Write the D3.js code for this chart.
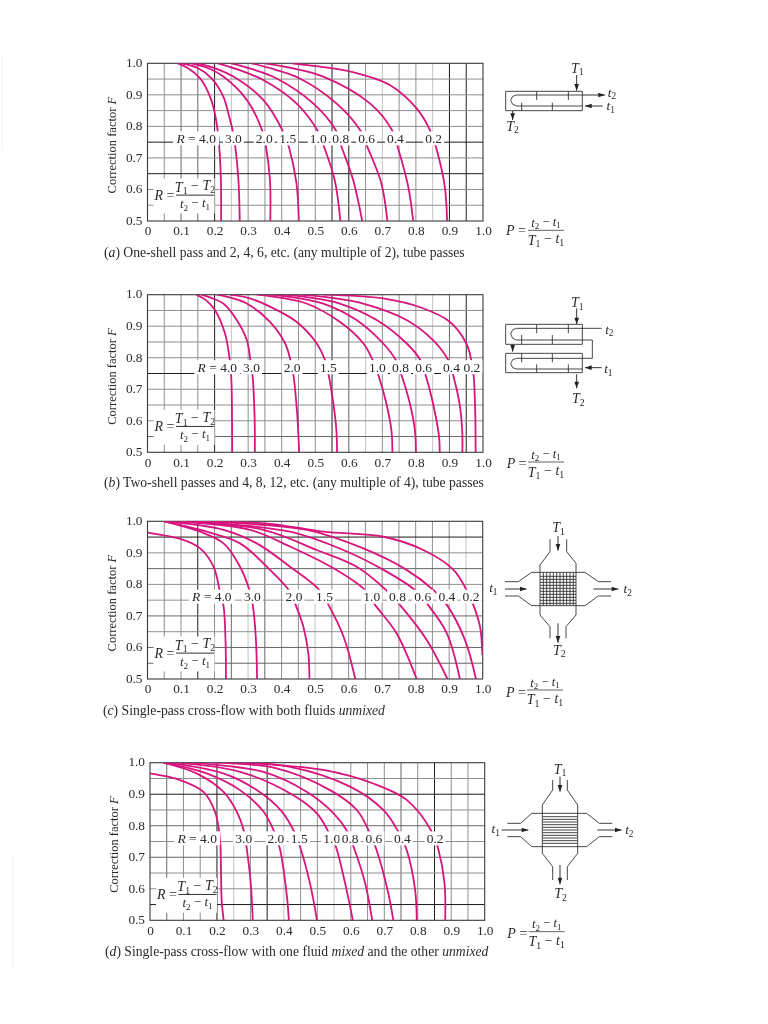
<!DOCTYPE html>
<html><head><meta charset="utf-8">
<script src="https://cdnjs.cloudflare.com/ajax/libs/d3/7.8.5/d3.min.js"></script>
<style>
html,body{margin:0;padding:0;background:#fff}
svg{display:block;filter:blur(0.35px)}
text{font-family:"Liberation Serif",serif;fill:#2a2a2a}
</style></head><body>
<svg id="c" width="768" height="1024"></svg>
<script>
const xTicks=[0,.1,.2,.3,.4,.5,.6,.7,.8,.9,1];
const yTicks=[.5,.6,.7,.8,.9,1];
const gridStepX=[.05,.1,.15,.2,.25,.3,.35,.4,.45,.5,.55,.6,.65,.7,.75,.8,.85,.9,.95];
const gridStepY=[.55,.6,.65,.7,.75,.8,.85,.9,.95];
const rNames=["4.0","3.0","2.0","1.5","1.0","0.8","0.6","0.4","0.2"];

const curvesA=[
 [[.09,1],[.12,.985],[.157,.952],[.18,.91],[.196,.863],[.21,.78],[.216,.7],[.219,.62],[.2195,.5]],
 [[.1,1],[.15,.985],[.191,.952],[.226,.894],[.246,.82],[.254,.786],[.261,.741],[.271,.63],[.275,.5]],
 [[.13,1],[.18,.985],[.226,.958],[.296,.884],[.342,.786],[.353,.736],[.365,.63],[.366,.5]],
 [[.15,1],[.2,.985],[.256,.958],[.345,.884],[.403,.786],[.421,.736],[.444,.62],[.451,.5]],
 [[.21,1],[.27,.98],[.345,.947],[.444,.873],[.507,.786],[.526,.736],[.558,.63],[.575,.5]],
 [[.25,1],[.31,.982],[.385,.952],[.494,.873],[.562,.786],[.578,.736],[.613,.63],[.64,.5]],
 [[.31,1],[.38,.98],[.454,.952],[.563,.873],[.635,.786],[.655,.736],[.697,.62],[.715,.5]],
 [[.35,1],[.43,.985],[.524,.958],[.663,.873],[.73,.786],[.747,.73],[.777,.61],[.792,.5]],
 [[.43,1],[.51,.99],[.603,.974],[.722,.931],[.802,.857],[.843,.786],[.861,.73],[.886,.61],[.893,.5]]];
const curvesB=[
 [[.145,1],[.175,.982],[.2,.953],[.231,.877],[.244,.803],[.25,.73],[.252,.6],[.2525,.5]],
 [[.16,1],[.19,.99],[.226,.972],[.266,.92],[.296,.856],[.306,.798],[.313,.745],[.319,.62],[.32,.5]],
 [[.206,1],[.25,.99],[.296,.972],[.365,.914],[.41,.846],[.426,.793],[.435,.745],[.446,.624],[.452,.5]],
 [[.246,1],[.3,.99],[.365,.962],[.444,.914],[.504,.846],[.529,.793],[.54,.745],[.554,.655],[.563,.57],[.565,.5]],
 [[.325,1],[.4,.99],[.474,.972],[.573,.914],[.643,.846],[.671,.793],[.688,.745],[.712,.655],[.727,.57],[.73,.5]],
 [[.365,1],[.445,.99],[.524,.972],[.623,.92],[.702,.846],[.74,.793],[.757,.745],[.782,.655],[.797,.57],[.8,.5]],
 [[.405,1],[.49,.99],[.573,.972],[.683,.92],[.772,.846],[.813,.793],[.829,.745],[.851,.655],[.869,.55],[.871,.5]],
 [[.454,1],[.55,.99],[.643,.972],[.772,.92],[.851,.856],[.896,.793],[.911,.745],[.93,.655],[.938,.57],[.9385,.5]],
 [[.524,1],[.702,.988],[.821,.957],[.901,.914],[.95,.846],[.965,.793],[.972,.745],[.977,.62],[.978,.5]]];
const curvesC=[
 [[0,.964],[.107,.941],[.157,.914],[.197,.856],[.217,.772],[.227,.73],[.233,.613],[.234,.5]],
 [[.05,1],[.157,.967],[.227,.93],[.276,.856],[.304,.782],[.314,.735],[.323,.634],[.327,.5]],
 [[.05,1],[.177,.967],[.276,.93],[.356,.856],[.425,.777],[.442,.735],[.465,.666],[.48,.58],[.483,.5]],
 [[.05,1],[.227,.973],[.326,.93],[.425,.856],[.513,.782],[.54,.735],[.585,.634],[.62,.5]],
 [[.08,1],[.306,.973],[.425,.92],[.555,.851],[.649,.782],[.679,.735],[.743,.645],[.803,.5]],
 [[.1,1],[.346,.973],[.505,.909],[.624,.856],[.712,.782],[.753,.735],[.833,.624],[.895,.5]],
 [[.12,1],[.425,.967],[.584,.909],[.704,.846],[.798,.782],[.833,.74],[.893,.645],[.932,.5]],
 [[.15,1],[.475,.973],[.644,.914],[.773,.846],[.853,.782],[.893,.735],[.947,.624],[.98,.5]],
 [[.2,1],[.366,.992],[.525,.967],[.704,.951],[.823,.909],[.913,.846],[.952,.782],[.972,.735],[.992,.666],[.999,.576]]];
const curvesD=[
 [[0,.966],[.09,.945],[.159,.908],[.194,.845],[.209,.76],[.212,.67],[.214,.565],[.22,.5]],
 [[.04,1],[.139,.966],[.219,.908],[.259,.845],[.281,.781],[.289,.728],[.301,.617],[.307,.5]],
 [[.04,1],[.169,.966],[.269,.913],[.339,.845],[.371,.781],[.388,.728],[.408,.586],[.415,.5]],
 [[.05,1],[.219,.966],[.319,.913],[.394,.845],[.431,.781],[.448,.734],[.478,.617],[.499,.5]],
 [[.08,1],[.269,.971],[.418,.903],[.498,.84],[.533,.781],[.555,.734],[.583,.617],[.606,.5]],
 [[.12,1],[.339,.971],[.468,.908],[.548,.84],[.59,.781],[.608,.734],[.643,.617],[.664,.5]],
 [[.18,1],[.378,.982],[.538,.913],[.618,.85],[.655,.781],[.677,.723],[.712,.586],[.727,.5]],
 [[.22,1],[.418,.987],[.598,.924],[.697,.85],[.742,.781],[.767,.723],[.792,.597],[.797,.5]],
 [[.3,1],[.319,.998],[.518,.977],[.667,.934],[.767,.882],[.842,.781],[.862,.723],[.88,.617],[.882,.5]]];

const labelPosA=[.145,.256,.348,.418,.509,.576,.653,.739,.853];
const labelPosB=[.208,.31,.431,.539,.685,.754,.823,.906,.967];
const labelPosC=[.192,.313,.437,.528,.669,.746,.821,.893,.965];
const labelPosD=[.141,.28,.376,.446,.543,.598,.669,.754,.852];

const panels=[
 {letter:"a",box:[147.5,63.3,483,221],curves:curvesA,lab:labelPosA,labF:.762,
  darkX:[.2,.55,.6,.9,.95],midX:[.1,.15],lightX:[.25,.7,.85],darkY:[.65,.75],midY:[],
  cap:[["(",""],["a","i"],[") One-shell pass and 2, 4, 6, etc. (any multiple of 2), tube passes",""]],capX:104,capY:257},
 {letter:"b",box:[147.5,294.7,483,452.3],curves:curvesB,lab:labelPosB,labF:.77,
  darkX:[.2,.55,.95],midX:[.6,.9],lightX:[.25,.65,.85],darkY:[.75],midY:[.55],
  cap:[["(",""],["b","i"],[") Two-shell passes and 4, 8, 12, etc. (any multiple of 4), tube passes",""]],capX:104,capY:487},
 {letter:"c",box:[147.5,521.3,482.7,679],curves:curvesC,lab:labelPosC,labF:.761,
  darkX:[.15],midX:[.25,.35],lightX:[.3,.5,.95],darkY:[.95],midY:[.85,.7,.6,.55],
  cap:[["(",""],["c","i"],[") Single-pass cross-flow with both fluids ",""],["unmixed","i"]],capX:103,capY:715},
 {letter:"d",box:[150,762.7,484.7,920.3],curves:curvesD,lab:labelPosD,labF:.76,
  darkX:[.2,.35,.85],midX:[.05,.75],lightX:[.25,.4,.55],darkY:[.9,.55],midY:[.8,.7],
  cap:[["(",""],["d","i"],[") Single-pass cross-flow with one fluid ",""],["mixed","i"],[" and the other ",""],["unmixed","i"]],capX:105,capY:956}
];

/* schematic outlines, in units of a third of a pixel */
const diagA={o:[490,50],lines:[[[47,124],[277,124],[277,182],[47,182],[47,124]],[[277,135],[80,135],[68,139],[62,151],[68,163],[80,168],[277,168]],[[140,124],[140,150]],[[235,124],[235,150]],[[95,158],[95,182]],[[187,158],[187,182]]],
 arrows:[[[260,75],[260,122]],[[68,182],[68,210]],[[277,135],[345,135]],[[338,168],[285,168]]],
 labs:[["T","1",262,68],["t","2",366,140],["t","1",362,180],["T","2",68,242]],frac:[168,531,564,48,544]};
const diagB={o:[490,285],lines:[[[47,118],[277,118],[277,178],[47,178],[47,118]],[[47,205],[277,205],[277,263],[47,263],[47,205]],[[335,130],[80,130],[68,134],[62,147],[68,160],[80,165],[307,165],[307,220],[80,220],[68,224],[62,236],[68,248],[80,252],[277,252]],[[140,118],[140,145]],[[235,118],[235,145]],[[95,150],[95,178]],[[187,150],[187,178]],[[95,205],[95,232]],[[187,205],[187,232]],[[140,238],[140,263]],[[235,238],[235,263]]],
 arrows:[[[260,70],[260,118]],[[68,178],[68,200]],[[260,268],[260,310]],[[335,248],[285,248]]],
 labs:[["T","1",262,66],["t","2",358,146],["t","1",355,264],["T","2",265,354]],frac:[168,521,555,50,538]};
const ductC=[[[210,88],[210,125],[180,165],[180,315],[210,350],[210,385]],[[260,88],[260,125],[288,160],[288,315],[258,350],[258,385]],[[75,215],[115,215],[155,187],[315,187],[355,215],[393,215]],[[75,258],[115,258],[155,287],[315,287],[355,258],[393,258]]];
const ductD=[[[218,75],[218,105],[187,150],[187,295],[218,335],[218,375]],[[262,75],[262,105],[293,150],[293,295],[262,335],[262,375]],[[82,205],[122,205],[155,175],[320,175],[358,205],[397,205]],[[82,245],[122,245],[155,275],[320,275],[358,245],[397,245]]];
const meshCh=[199,208,217,226,235,244,253,262,271,280];
const meshCx=[190,200,210,220,230,240,250,260,270,280];
const meshDh=[185,193,201,209,217,225,233,241,249,257,265];
const diagC={o:[480,510],lines:ductC.concat(meshCh.map(y=>[[180,y],[288,y]]),meshCx.map(x=>[[x,187],[x,287]])),
 arrows:[[[234,78],[234,122]],[[234,340],[234,398]],[[75,237],[140,237]],[[340,237],[415,237]]],
 labs:[["T","1",236,66],["t","1",40,246],["t","2",443,249],["T","2",238,434]],frac:[195,530,563,78,551]};
const diagD={o:[480,755],lines:ductD.concat(meshDh.map(y=>[[187,y],[293,y]])),
 arrows:[[[240,65],[240,110]],[[240,330],[240,388]],[[65,225],[145,225]],[[352,225],[425,225]]],
 labs:[["T","1",240,56],["t","1",47,234],["t","2",448,237],["T","2",242,429]],frac:[200,520,553,82,538]};
const diagrams=[diagA,diagB,diagC,diagD];

const svg=d3.select("#c");
function rich(t,parts,subSize){
  let pendingUp=false;
  parts.forEach(p=>{
    const s=t.append("tspan").text(p[0]);
    if(p[1]=="i")s.attr("font-style","italic");
    if(p[1]=="s")s.attr("font-size",subSize||"70%").attr("dy","0.28em");
    if(pendingUp){s.attr("dy","-0.28em");pendingUp=false;}
    if(p[1]=="s")pendingUp=true;
  });
  return t;
}

panels.forEach((p,pi)=>{
  const [x0,y0,x1,y1]=p.box;
  const x=d3.scaleLinear().domain([0,1]).range([x0,x1]);
  const y=d3.scaleLinear().domain([.5,1]).range([y1,y0]);
  const g=svg.append("g");
  const shade=(v,d,m,l)=>d.includes(v)?"#1c1c1c":m.includes(v)?"#666":l.includes(v)?"#c4c4c4":"#8f8f8f";
  g.selectAll(".gx").data(gridStepX).join("line").attr("x1",x).attr("x2",x).attr("y1",y1).attr("y2",y0)
    .attr("stroke",d=>shade(d,p.darkX,p.midX,p.lightX)).attr("stroke-width",1);
  g.selectAll(".gy").data(gridStepY).join("line").attr("x1",x0).attr("x2",x1).attr("y1",y).attr("y2",y)
    .attr("stroke",d=>shade(d,p.darkY,p.midY,[])).attr("stroke-width",1);
  g.append("rect").attr("x",x0).attr("y",y0).attr("width",x1-x0).attr("height",y1-y0)
    .attr("fill","none").attr("stroke","#3a3a3a").attr("stroke-width",1.1);

  const clipId="plot-"+p.letter;
  svg.append("clipPath").attr("id",clipId).append("rect").attr("x",x0).attr("y",y0).attr("width",x1-x0).attr("height",y1-y0);
  const line=d3.line().x(d=>x(d[0])).y(d=>y(d[1])).curve(d3.curveCatmullRom.alpha(.5));
  g.append("g").attr("clip-path",`url(#${clipId})`).selectAll("path").data(p.curves).join("path").attr("d",line)
    .attr("fill","none").attr("stroke","#d8147e").attr("stroke-width",1.8);

  /* R labels knock out grid and curves */
  p.lab.forEach((v,i)=>{
    const full=i==0;
    const w=full?46:21;
    const yc=y(p.labF);
    g.append("rect").attr("x",x(v)-w/2).attr("y",yc-7).attr("width",w).attr("height",14).attr("fill","#fff");
    const t=g.append("text").attr("x",x(v)).attr("y",yc+4.5).attr("text-anchor","middle").attr("font-size",13.5);
    if(full)rich(t,[["R","i"],[" = "+rNames[i],""]]);else t.text(rNames[i]);
  });

  /* R formula */
  const fx=x(.018), fw=x(.2)-fx, ftop=y(.635), fh=y(.524)-ftop;
  g.append("rect").attr("x",fx).attr("y",ftop).attr("width",fw).attr("height",fh).attr("fill","#fff");
  const fcx=x0+47.5, fmid=y(.582);
  rich(g.append("text").attr("x",x0+7).attr("y",fmid+4.5).attr("font-size",14),[["R","i"],[" =",""]]);
  rich(g.append("text").attr("x",fcx).attr("y",fmid-3.5).attr("text-anchor","middle").attr("font-size",14),[["T","i"],["1","s"],[" − ",""],["T","i"],["2","s"]]);
  rich(g.append("text").attr("x",fcx).attr("y",fmid+13).attr("text-anchor","middle").attr("font-size",13),[["t","i"],["2","s"],[" − ",""],["t","i"],["1","s"]]);
  g.append("line").attr("x1",fcx-19).attr("x2",fcx+19).attr("y1",fmid).attr("y2",fmid).attr("stroke","#333");

  /* axes */
  const ax=d3.axisBottom(x).tickValues(xTicks).tickSize(0).tickPadding(5).tickFormat(d=>d==0?"0":d3.format(".1f")(d));
  const ay=d3.axisLeft(y).tickValues(yTicks).tickSize(0).tickPadding(5).tickFormat(d3.format(".1f"));
  const gx=g.append("g").attr("transform",`translate(0,${y1})`).call(ax);
  const gy=g.append("g").attr("transform",`translate(${x0},-1)`).call(ay);
  [gx,gy].forEach(a=>{a.select(".domain").remove();a.selectAll("text").attr("font-size",13.3).attr("font-family","Liberation Serif").attr("fill","#2a2a2a");});

  rich(g.append("text").attr("transform",`translate(${x0-32},${(y0+y1)/2+3}) rotate(-90)`).attr("text-anchor","middle").attr("font-size",12.5),[["Correction factor ",""],["F","i"]]);
  rich(g.append("text").attr("x",p.capX).attr("y",p.capY).attr("font-size",13.65),p.cap);

  /* schematic */
  const dg=diagrams[pi];
  const s=svg.append("g").attr("transform",`translate(${dg.o[0]},${dg.o[1]}) scale(${1/3})`);
  const plain=d3.line();
  s.selectAll(".l").data(dg.lines).join("path").attr("d",d=>plain(d)).attr("fill","none").attr("stroke","#333").attr("stroke-width",2.7);
  dg.arrows.forEach(a=>{
    s.append("path").attr("d",plain(a)).attr("stroke","#333").attr("stroke-width",3).attr("fill","none");
    const [[ax0,ay0],[ax1,ay1]]=a, ang=Math.atan2(ay1-ay0,ax1-ax0)*180/Math.PI;
    s.append("path").attr("d","M0,0L-20,-7L-20,7Z").attr("fill","#222").attr("transform",`translate(${ax1},${ay1}) rotate(${ang})`);
  });
  dg.labs.forEach(l=>{
    rich(s.append("text").attr("x",l[2]).attr("y",l[3]).attr("text-anchor","middle").attr("font-size",l[0]=="T"?42:40),[[l[0],"i"],[l[1],"s"]]);
  });
  const [cx,ny,dy,px,py]=dg.frac;
  rich(s.append("text").attr("x",cx).attr("y",ny).attr("text-anchor","middle").attr("font-size",38),[["t","i"],["2","s"],[" − ",""],["t","i"],["1","s"]]);
  rich(s.append("text").attr("x",cx).attr("y",dy+20).attr("text-anchor","middle").attr("font-size",42),[["T","i"],["1","s"],[" − ",""],["t","i"],["1","s"]]);
  s.append("line").attr("x1",cx-54).attr("x2",cx+54).attr("y1",ny+10).attr("y2",ny+10).attr("stroke","#444").attr("stroke-width",2.5);
  rich(s.append("text").attr("x",px).attr("y",py+10).attr("font-size",42),[["P","i"],[" =",""]]);
});
svg.append("line").attr("x1",2).attr("x2",2).attr("y1",55).attr("y2",150).attr("stroke","#f2f2f2");
svg.append("line").attr("x1",13).attr("x2",13).attr("y1",855).attr("y2",970).attr("stroke","#f0f0f0");
</script></body></html>
